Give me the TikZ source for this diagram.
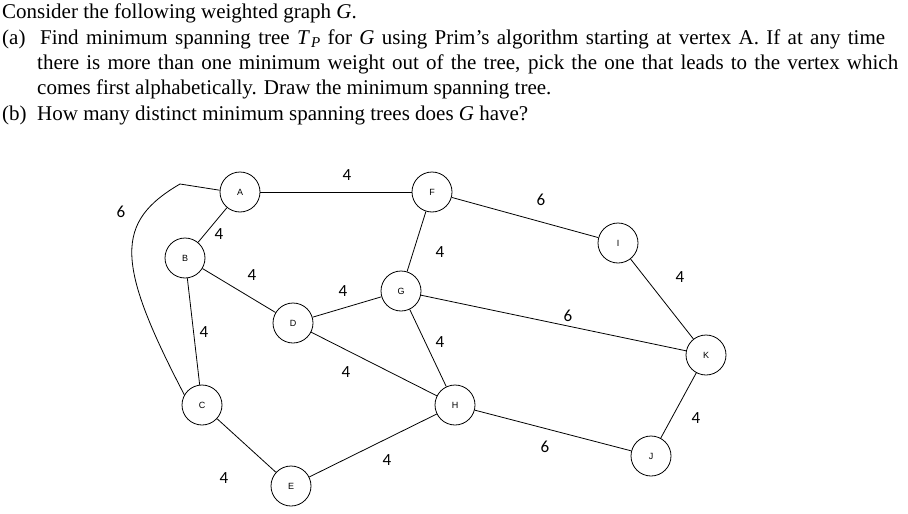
\documentclass[tikz,border=0pt]{standalone}
\usepackage{fontspec}
\setmainfont{Liberation Serif}
\newfontfamily\lab{Carlito}
\newfontfamily\vlab{Liberation Sans}
\begin{document}
\begin{tikzpicture}[x=1pt,y=-1pt,
  vtx/.style={circle,draw,thick,minimum size=40pt,inner sep=0pt,font=\vlab\fontsize{9}{10}\selectfont},
  edge/.style={draw,thick},
  wt/.style={font=\lab\fontsize{17}{18}\selectfont},
  hl/.style={anchor=base west,inner sep=0pt,font=\fontsize{21}{24}\selectfont}]
\useasboundingbox (0,0) rectangle (908,514);
\node[hl] (t1) at (2,19) {Consider the following weighted graph \textit{G}.};
\node[hl] (t2) at (2,44) {\makebox[883pt][s]{(a)\ \ Find minimum spanning tree \textit{T}\kern1pt\raisebox{-3pt}{\fontsize{15}{15}\selectfont\textit{P}} for \textit{G} using Prim's algorithm starting at vertex A. If at any time}};
\node[hl] (t3) at (37,69) {\makebox[861pt][s]{there is more than one minimum weight out of the tree, pick the one that leads to the vertex which}};
\node[hl] (t4) at (37,94) {comes first alphabetically. Draw the minimum spanning tree.};
\node[hl] (t5) at (2,120) {(b)\ \ How many distinct minimum spanning trees does \textit{G} have?};
\node[vtx] (A) at (240,192) {A};
\node[vtx] (F) at (432,192) {F};
\node[vtx] (B) at (185,258) {B};
\node[vtx] (I) at (618,243) {I};
\node[vtx] (G) at (401,291) {G};
\node[vtx] (D) at (293,323) {D};
\node[vtx] (K) at (706,355) {K};
\node[vtx] (C) at (202,405) {C};
\node[vtx] (H) at (455,405) {H};
\node[vtx] (J) at (651,456) {J};
\node[vtx] (E) at (291,486) {E};
\coordinate (ac) at (180,184);
\draw[edge] (A) -- (F);
\draw[edge] (A) -- (B);
\draw[edge] (A.175) -- (ac) .. controls (115,222) and (115,262) .. (C.150);
\draw[edge] (B) -- (D);
\draw[edge] (B) -- (C);
\draw[edge] (D) -- (G);
\draw[edge] (D) -- (H);
\draw[edge] (G) -- (F);
\draw[edge] (G) -- (H);
\draw[edge] (G) -- (K);
\draw[edge] (F) -- (I);
\draw[edge] (I) -- (K);
\draw[edge] (C) -- (E);
\draw[edge] (E) -- (H);
\draw[edge] (H) -- (J);
\draw[edge] (J) -- (K);
\node[wt] (w1) at (347,175) {4};
\node[wt] (w2) at (219,234) {4};
\node[wt] (w3) at (121,212) {6};
\node[wt] (w4) at (252,275) {4};
\node[wt] (w5) at (204,332) {4};
\node[wt] (w6) at (343,291) {4};
\node[wt] (w7) at (346,372) {4};
\node[wt] (w8) at (440,252) {4};
\node[wt] (w9) at (440,342) {4};
\node[wt] (w10) at (568,316) {6};
\node[wt] (w11) at (541,200) {6};
\node[wt] (w12) at (680,277) {4};
\node[wt] (w13) at (224,478) {4};
\node[wt] (w14) at (387,460) {4};
\node[wt] (w15) at (545,447) {6};
\node[wt] (w16) at (696,418) {4};
\end{tikzpicture}
\end{document}
